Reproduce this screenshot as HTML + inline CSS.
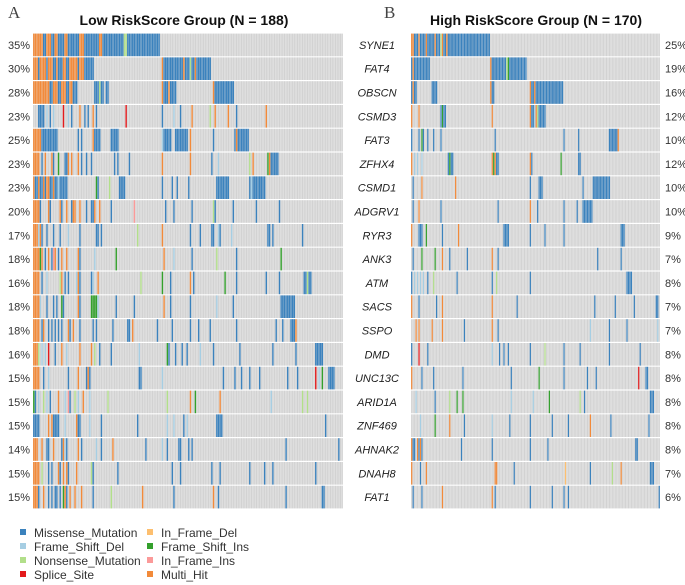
<!DOCTYPE html>
<html><head><meta charset="utf-8"><style>
html,body{margin:0;padding:0;background:#fff;}
svg{display:block;font-family:"Liberation Sans",sans-serif;}
</style></head><body>
<svg id="chart" width="685" height="585" viewBox="0 0 685 585" xmlns="http://www.w3.org/2000/svg">
<text x="8" y="18" font-family="Liberation Serif,serif" font-size="17" fill="#444">A</text>
<text x="184" y="25" text-anchor="middle" font-size="14" font-weight="bold" fill="#111">Low RiskScore Group (N = 188)</text>
<text x="384" y="18" font-family="Liberation Serif,serif" font-size="17" fill="#444">B</text>
<text x="536" y="25" text-anchor="middle" font-size="14" font-weight="bold" fill="#111">High RiskScore Group (N = 170)</text>
<g id="left"></g>
<g id="right"></g>
<g id="labels"></g>
<g id="legend"></g>
</svg>
<script>
const genes=["SYNE1","FAT4","OBSCN","CSMD3","FAT3","ZFHX4","CSMD1","ADGRV1","RYR3","ANK3","ATM","SACS","SSPO","DMD","UNC13C","ARID1A","ZNF469","AHNAK2","DNAH8","FAT1"];
const lowPct=["35%","30%","28%","23%","25%","23%","23%","20%","17%","18%","16%","18%","18%","16%","15%","15%","15%","14%","15%","15%"];
const highPct=["25%","19%","16%","12%","10%","12%","10%","10%","9%","7%","8%","7%","7%","8%","8%","8%","8%","8%","7%","6%"];
const nLow=188, nHigh=170;
const lowMut=[
[[0,6,"O"],[6,2,"M"],[8,3,"O"],[11,2,"M"],[13,2,"O"],[15,4,"M"],[19,2,"O"],[21,7,"M"],[28,3,"O"],[31,9,"M"],[40,2,"O"],[42,13,"M"],[55,2,"N"],[57,20,"M"]],
[[0,3,"O"],[3,1,"M"],[4,4,"O"],[8,1,"M"],[9,3,"O"],[12,2,"M"],[14,1,"O"],[15,3,"M"],[18,2,"O"],[20,2,"M"],[22,5,"O"],[27,1,"M"],[28,3,"O"],[31,6,"M"],[78,1,"O"],[79,12,"M"],[91,1,"O"],[92,3,"M"],[95,1,"N"],[96,2,"M"],[98,1,"O"],[99,9,"M"]],
[[0,10,"O"],[10,2,"M"],[12,3,"O"],[15,2,"M"],[17,3,"O"],[20,2,"M"],[22,2,"O"],[24,3,"M"],[37,3,"M"],[40,1,"N"],[41,2,"M"],[44,2,"M"],[78,1,"O"],[79,3,"M"],[82,1,"O"],[83,4,"M"],[109,1,"O"],[110,12,"M"]],
[[3,4,"M"],[8,1,"F"],[10,1,"M"],[12,1,"F"],[18,1,"S"],[21,1,"F"],[23,1,"M"],[28,1,"O"],[31,1,"M"],[33,1,"M"],[36,1,"O"],[38,1,"M"],[56,1,"S"],[78,1,"M"],[85,1,"F"],[89,1,"M"],[96,1,"O"],[107,1,"N"],[110,1,"O"],[118,1,"O"],[123,1,"M"],[141,1,"O"]],
[[0,5,"O"],[5,10,"M"],[27,1,"M"],[29,1,"M"],[36,1,"O"],[37,4,"M"],[47,5,"M"],[78,1,"F"],[79,5,"M"],[86,8,"M"],[95,1,"O"],[109,1,"M"],[122,1,"M"],[123,1,"O"],[124,7,"M"]],
[[0,4,"O"],[5,1,"M"],[7,1,"O"],[11,1,"O"],[12,1,"M"],[15,1,"G"],[19,2,"M"],[21,1,"O"],[23,1,"O"],[27,1,"O"],[29,1,"M"],[32,1,"M"],[35,1,"M"],[49,1,"M"],[51,1,"M"],[58,1,"M"],[78,1,"O"],[95,1,"O"],[108,1,"M"],[112,1,"F"],[131,1,"N"],[133,1,"O"],[142,1,"G"],[143,1,"O"],[144,5,"M"]],
[[0,1,"O"],[1,2,"M"],[3,1,"O"],[4,2,"M"],[6,1,"O"],[7,1,"M"],[8,2,"O"],[10,2,"M"],[12,1,"O"],[13,2,"M"],[15,1,"F"],[16,5,"M"],[38,1,"G"],[39,1,"M"],[46,1,"N"],[52,4,"M"],[78,1,"M"],[84,1,"M"],[87,1,"M"],[94,1,"M"],[111,8,"M"],[131,1,"M"],[132,1,"F"],[133,8,"M"]],
[[0,4,"O"],[4,1,"M"],[9,1,"O"],[10,1,"M"],[16,1,"O"],[17,1,"M"],[20,1,"O"],[23,1,"M"],[24,2,"O"],[28,1,"O"],[32,1,"M"],[35,2,"M"],[37,1,"O"],[40,1,"O"],[47,1,"M"],[61,1,"I"],[80,1,"M"],[85,1,"M"],[96,1,"M"],[109,1,"N"],[110,1,"M"],[121,1,"M"],[135,1,"M"],[149,1,"M"]],
[[0,3,"O"],[3,1,"F"],[4,1,"O"],[5,1,"M"],[8,1,"M"],[12,1,"M"],[16,1,"M"],[21,1,"F"],[28,1,"M"],[38,2,"M"],[41,1,"M"],[63,1,"N"],[78,1,"O"],[95,1,"M"],[101,1,"M"],[108,2,"M"],[112,1,"F"],[113,1,"M"],[120,1,"F"],[142,2,"M"],[145,1,"M"],[163,1,"M"]],
[[0,4,"O"],[4,1,"G"],[5,1,"O"],[7,1,"M"],[9,1,"O"],[11,1,"M"],[12,1,"I"],[13,1,"O"],[15,1,"M"],[17,1,"O"],[20,1,"O"],[27,1,"O"],[28,1,"M"],[37,1,"F"],[50,1,"G"],[79,1,"O"],[85,1,"F"],[96,1,"M"],[111,1,"N"],[123,1,"M"],[150,1,"G"]],
[[0,4,"O"],[5,1,"M"],[8,1,"F"],[16,1,"N"],[17,1,"O"],[19,1,"M"],[21,1,"M"],[26,1,"F"],[27,1,"O"],[28,1,"M"],[35,1,"M"],[36,1,"F"],[39,1,"O"],[65,1,"N"],[78,1,"G"],[83,1,"M"],[95,1,"O"],[97,1,"M"],[116,1,"G"],[123,1,"M"],[141,1,"M"],[149,1,"M"],[164,2,"M"],[166,1,"N"],[167,2,"M"]],
[[0,4,"O"],[4,1,"F"],[8,1,"M"],[12,1,"M"],[14,1,"M"],[17,1,"G"],[18,1,"M"],[27,1,"O"],[28,1,"M"],[35,4,"G"],[39,1,"F"],[50,1,"M"],[61,1,"M"],[79,1,"O"],[83,1,"M"],[95,1,"M"],[111,1,"F"],[121,1,"M"],[150,9,"M"]],
[[0,4,"O"],[5,1,"M"],[6,1,"O"],[9,1,"M"],[11,1,"M"],[13,1,"M"],[15,1,"M"],[17,1,"M"],[21,1,"O"],[22,1,"M"],[24,1,"O"],[28,1,"M"],[36,1,"M"],[38,1,"M"],[48,1,"M"],[57,2,"M"],[60,1,"O"],[75,1,"M"],[84,1,"M"],[95,1,"M"],[100,1,"M"],[107,1,"M"],[123,1,"M"],[147,1,"M"],[151,1,"M"],[156,3,"M"],[159,1,"O"]],
[[0,3,"O"],[3,1,"N"],[5,1,"F"],[7,1,"F"],[9,1,"S"],[13,1,"M"],[17,1,"O"],[20,1,"F"],[28,1,"O"],[35,1,"O"],[37,1,"N"],[40,1,"M"],[47,1,"M"],[64,1,"F"],[81,1,"G"],[82,1,"M"],[86,1,"M"],[90,1,"M"],[93,1,"M"],[101,1,"F"],[109,1,"M"],[125,1,"M"],[145,1,"M"],[159,1,"M"],[171,5,"M"]],
[[0,4,"O"],[6,1,"M"],[9,1,"F"],[21,1,"M"],[27,1,"O"],[32,1,"M"],[33,1,"O"],[34,1,"M"],[64,2,"M"],[78,1,"F"],[115,1,"M"],[122,1,"M"],[126,1,"M"],[131,1,"M"],[137,1,"M"],[154,1,"M"],[160,1,"M"],[171,1,"S"],[173,1,"F"],[175,1,"G"],[179,4,"M"]],
[[0,1,"G"],[1,1,"M"],[3,1,"F"],[6,1,"N"],[8,1,"F"],[10,1,"M"],[15,1,"O"],[19,1,"F"],[21,1,"I"],[22,1,"M"],[25,1,"N"],[27,1,"F"],[30,1,"O"],[34,1,"F"],[45,1,"N"],[81,1,"N"],[95,1,"O"],[98,1,"G"],[113,1,"O"],[144,1,"F"],[163,1,"N"],[166,1,"N"]],
[[0,4,"M"],[9,1,"O"],[11,1,"O"],[12,4,"M"],[19,1,"F"],[26,1,"O"],[27,2,"M"],[34,1,"F"],[41,1,"M"],[63,1,"M"],[81,1,"F"],[85,1,"F"],[91,1,"M"],[93,1,"F"],[111,4,"M"],[177,1,"M"]],
[[0,3,"O"],[5,1,"O"],[8,1,"M"],[9,1,"M"],[12,1,"O"],[17,1,"M"],[18,1,"O"],[19,1,"F"],[20,1,"M"],[27,1,"O"],[29,1,"M"],[38,1,"F"],[41,1,"M"],[48,1,"O"],[68,1,"M"],[78,1,"F"],[81,1,"M"],[88,2,"M"],[94,1,"M"],[96,1,"M"],[153,1,"M"],[185,1,"M"]],
[[0,4,"O"],[5,1,"N"],[9,1,"M"],[11,1,"M"],[15,1,"O"],[16,1,"M"],[18,1,"O"],[20,1,"O"],[21,1,"M"],[26,1,"O"],[35,1,"N"],[36,1,"M"],[51,1,"M"],[84,1,"M"],[89,1,"M"],[108,1,"M"],[113,1,"M"],[131,1,"M"],[140,1,"M"],[145,1,"M"],[171,1,"M"]],
[[0,3,"O"],[3,1,"M"],[6,1,"O"],[9,1,"M"],[11,1,"M"],[13,2,"M"],[16,1,"M"],[18,1,"G"],[19,1,"O"],[20,1,"M"],[22,1,"O"],[25,1,"O"],[29,1,"O"],[36,1,"M"],[47,1,"N"],[66,1,"O"],[85,1,"M"],[109,1,"O"],[112,1,"M"],[153,1,"M"],[175,2,"M"]]
];
const highMut=[
[[0,2,"O"],[2,3,"M"],[5,1,"O"],[6,4,"M"],[10,1,"O"],[11,5,"M"],[16,1,"O"],[17,3,"M"],[20,1,"N"],[21,1,"O"],[22,2,"M"],[24,1,"O"],[25,29,"M"]],
[[0,1,"M"],[1,1,"O"],[2,11,"M"],[54,1,"O"],[55,10,"M"],[65,1,"N"],[66,1,"G"],[67,12,"M"]],
[[0,1,"M"],[1,1,"O"],[2,2,"M"],[14,4,"M"],[54,1,"O"],[55,2,"M"],[81,1,"O"],[82,2,"M"],[84,1,"O"],[85,19,"M"]],
[[0,1,"O"],[5,1,"O"],[20,1,"M"],[21,1,"G"],[22,2,"M"],[55,1,"O"],[81,1,"O"],[82,2,"M"],[84,1,"F"],[85,1,"O"],[86,1,"N"],[87,5,"M"]],
[[0,1,"M"],[5,1,"M"],[7,1,"G"],[8,1,"M"],[11,1,"M"],[15,1,"M"],[20,1,"M"],[57,1,"M"],[104,1,"M"],[114,1,"M"],[135,6,"M"],[141,1,"O"]],
[[0,1,"O"],[2,1,"F"],[4,1,"F"],[7,1,"F"],[25,1,"M"],[26,1,"G"],[27,2,"M"],[55,1,"O"],[56,1,"G"],[57,1,"O"],[58,2,"M"],[81,1,"O"],[82,1,"M"],[102,1,"G"],[114,2,"M"]],
[[1,1,"M"],[7,1,"O"],[30,1,"O"],[81,1,"M"],[87,3,"M"],[117,1,"M"],[124,12,"M"]],
[[1,1,"M"],[5,1,"O"],[20,1,"M"],[59,1,"M"],[81,1,"O"],[86,1,"M"],[104,1,"M"],[113,1,"M"],[117,7,"M"]],
[[0,1,"O"],[5,3,"M"],[10,1,"G"],[21,1,"M"],[32,1,"O"],[63,4,"M"],[81,1,"M"],[91,1,"M"],[104,1,"M"],[143,3,"M"]],
[[1,1,"M"],[7,1,"G"],[16,1,"G"],[21,1,"O"],[26,1,"M"],[38,1,"M"],[55,1,"O"],[59,1,"M"],[127,1,"M"],[143,1,"M"]],
[[0,1,"M"],[2,1,"F"],[4,1,"F"],[6,1,"F"],[8,1,"F"],[11,1,"M"],[15,1,"N"],[31,1,"M"],[55,1,"M"],[58,1,"N"],[81,1,"M"],[147,4,"M"]],
[[0,1,"O"],[5,1,"M"],[17,1,"M"],[21,1,"O"],[55,1,"O"],[72,1,"M"],[125,1,"M"],[139,1,"M"],[152,1,"M"],[167,2,"M"]],
[[3,1,"O"],[5,1,"O"],[14,1,"O"],[21,1,"O"],[36,1,"M"],[55,1,"O"],[59,1,"M"],[122,1,"F"],[135,1,"M"],[147,1,"M"],[168,1,"F"]],
[[0,1,"M"],[5,1,"S"],[11,1,"M"],[55,1,"F"],[60,1,"M"],[63,1,"M"],[66,1,"M"],[81,1,"M"],[91,1,"N"],[104,1,"M"],[115,1,"M"],[135,1,"M"],[156,1,"M"]],
[[0,1,"O"],[7,1,"M"],[15,1,"M"],[35,1,"M"],[68,1,"M"],[87,1,"G"],[104,1,"M"],[120,1,"M"],[126,1,"M"],[155,1,"S"],[160,2,"M"]],
[[3,1,"F"],[16,1,"M"],[26,1,"N"],[31,1,"G"],[35,1,"G"],[68,1,"F"],[83,1,"F"],[94,1,"G"],[115,1,"N"],[118,1,"M"],[163,3,"M"]],
[[6,1,"F"],[16,1,"G"],[26,1,"O"],[36,1,"M"],[55,1,"F"],[67,1,"M"],[81,1,"M"],[96,1,"M"],[107,1,"M"],[122,1,"O"],[136,1,"M"],[162,1,"M"]],
[[0,1,"O"],[1,2,"M"],[4,1,"O"],[5,1,"M"],[6,1,"O"],[7,1,"M"],[34,1,"M"],[55,1,"M"],[81,1,"M"],[93,1,"M"],[153,2,"M"]],
[[0,1,"O"],[6,1,"M"],[10,1,"O"],[57,2,"O"],[70,1,"M"],[105,1,"D"],[122,1,"M"],[137,1,"N"],[143,1,"O"],[163,3,"M"]],
[[1,1,"M"],[7,1,"M"],[21,1,"O"],[55,1,"O"],[57,1,"M"],[81,1,"M"],[96,1,"M"],[104,1,"M"],[107,1,"M"],[169,1,"M"]]
];
const legendLabels=["Missense_Mutation","Frame_Shift_Del","Nonsense_Mutation","Splice_Site","In_Frame_Del","Frame_Shift_Ins","In_Frame_Ins","Multi_Hit"];
const legendCodes=["M","F","N","S","D","G","I","O"];
const colors={M:"#3b82bd",F:"#a6cee3",N:"#b2df8a",S:"#e31a1c",D:"#fdbf6f",G:"#33a02c",I:"#fb9a99",O:"#f28a3a"};
const NS="http://www.w3.org/2000/svg";
const top0=33, rowH=23.8;
function mk(tag,attrs,parent){const e=document.createElementNS(NS,tag);for(const k in attrs)e.setAttribute(k,attrs[k]);parent.appendChild(e);return e;}
function yScale(r){return top0+r*rowH;}
function drawPanel(g,x0,x1,n,data,prefix){
  const cw=(x1-x0)/n;
  const xs=i=>x0+i*cw;
  data.forEach((row,r)=>{
    const y=yScale(r)+0.6,h=rowH-1.2;
    const bg=mk("rect",{x:x0,y:y,width:x1-x0,height:h,fill:"#ececec"},g);
    
    
    let cells="";
    for(let i=0;i<n;i++){cells+=`M${(xs(i)+0.2).toFixed(2)} ${y}h${(cw-0.45).toFixed(2)}v${h}h${-(cw-0.45).toFixed(2)}z`;}
    const p=mk("path",{d:cells,fill:"#d2d2d2"},g);
    
    
    row.forEach(seg=>{
      for(let k=0;k<seg[1];k++){
        const i=seg[0]+k; if(i>=n)continue;
        const c=mk("rect",{x:(xs(i)+0.1).toFixed(2),y:y,width:(cw-0.25).toFixed(2),height:h,fill:colors[seg[2]]},g);
        
        
      }
    });
  });
}
drawPanel(document.getElementById("left"),33,343,nLow,lowMut,"low");
drawPanel(document.getElementById("right"),411,660,nHigh,highMut,"high");
const lab=document.getElementById("labels");
genes.forEach((gname,r)=>{
  const yc=yScale(r)+rowH/2+4;
  const a=mk("text",{x:30,y:yc,"text-anchor":"end","font-size":"11",fill:"#333"},lab);a.textContent=lowPct[r];
  
  
  const b=mk("text",{x:377,y:yc,"text-anchor":"middle","font-size":"11","font-style":"italic",fill:"#222"},lab);b.textContent=gname;
  
  
  const c=mk("text",{x:665,y:yc,"font-size":"11",fill:"#333"},lab);c.textContent=highPct[r];
  
  
});
const lg=document.getElementById("legend");
legendLabels.forEach((t,i)=>{
  const col=Math.floor(i/4),row=i%4;
  const x=col?147:20, y=533+row*14;
  const s=mk("rect",{x:x,y:y-4,width:6,height:6,fill:colors[legendCodes[i]]},lg);
  
  
  const tx=mk("text",{x:x+14,y:y+4,"font-size":"12",fill:"#333"},lg);tx.textContent=t;
  
  
});
</script>
</body></html>
